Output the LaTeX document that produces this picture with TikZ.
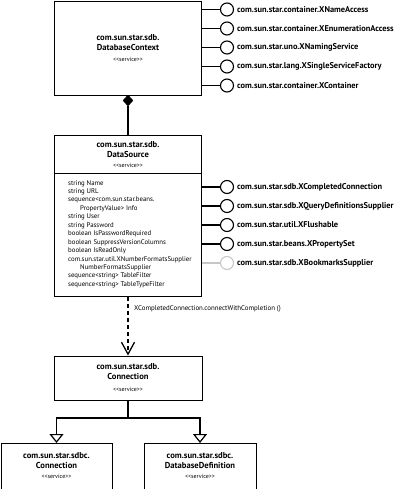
\documentclass[tikz,border=0pt]{standalone}
\usepackage{fontspec}
\setmainfont{PT Sans}
\usetikzlibrary{shapes.geometric,arrows.meta}
\begin{document}
\begin{tikzpicture}[x=1pt,y=-1pt,
  box/.style={draw,line width=0.9pt,rectangle,inner sep=0pt,align=center},
  ttl/.style={font=\bfseries\fontsize{8.6}{10}\selectfont,align=center,inner sep=0pt},
  stereo/.style={font=\fontsize{6}{7}\selectfont,inner sep=0pt},
  iface/.style={draw,circle,line width=1.1pt,minimum size=13pt,inner sep=0pt},
  ifacegray/.style={iface,draw=black!22},
  ilabel/.style={anchor=west,font=\bfseries\fontsize{8.4}{9}\selectfont,inner sep=0pt},
  conn/.style={line width=1.4pt},
  attr/.style={font=\fontsize{6.8}{8.45}\selectfont,align=left,anchor=north west,inner sep=0pt}
]
\useasboundingbox (0,0) rectangle (400,489);
\clip (0,0) rectangle (400,489);

% DatabaseContext
\node[box,minimum width=147pt,minimum height=94pt] (dbc) at (128,48) {};
\node[ttl] (dbct) at (128,42.5) {com.sun.star.sdb.\\DatabaseContext};
\node[stereo] (dbcs) at (128,59) {<{}<service>{}>};

% interfaces of DatabaseContext
\foreach \n/\yy/\t in {a1/9.5/com.sun.star.container.XNameAccess,
  a2/28.5/com.sun.star.container.XEnumerationAccess,
  a3/47.5/com.sun.star.uno.XNamingService,
  a4/66.5/com.sun.star.lang.XSingleServiceFactory,
  a5/85.5/com.sun.star.container.XContainer}{
  \node[iface] (\n) at (227,\yy) {};
  \draw[line width=1.1pt] (\n.west) -- (dbc.east |- \n.west);
  \node[ilabel] (\n l) at (237,\yy) {\t};
}

% DataSource
\node[box,minimum width=147pt,minimum height=38pt] (dsh) at (128,154) {};
\node[ttl] (dst) at (128,150) {com.sun.star.sdb.\\DataSource};
\node[stereo] (dss) at (128,165) {<{}<service>{}>};
\node[box,minimum width=147pt,minimum height=123pt,anchor=north] (dsb) at (dsh.south) {};
\node[attr] (dsa) at (68,180) {string Name\\string URL\\sequence<com.sun.star.beans.\\\hspace*{12pt}PropertyValue> Info\\string User\\string Password\\boolean IsPasswordRequired\\boolean SuppressVersionColumns\\boolean IsReadOnly\\com.sun.star.util.XNumberFormatsSupplier\\\hspace*{12pt}NumberFormatsSupplier\\sequence<string> TableFilter\\sequence<string> TableTypeFilter};

% composition
\node[diamond,fill=black,draw=black,minimum width=10pt,minimum height=11pt,inner sep=0pt] (dia) at (128,100.5) {};
\draw[conn] (dia.south) -- (dsh.north);

% interfaces of DataSource
\foreach \n/\yy/\t in {b1/187/com.sun.star.sdb.XCompletedConnection,
  b2/206/com.sun.star.sdb.XQueryDefinitionsSupplier,
  b3/225/com.sun.star.util.XFlushable,
  b4/244/com.sun.star.beans.XPropertySet}{
  \node[iface] (\n) at (227,\yy) {};
  \draw[line width=1.1pt] (\n.west) -- (dsb.east |- \n.west);
  \node[ilabel] (\n l) at (237,\yy) {\t};
}
\node[ifacegray] (b5) at (227,263) {};
\draw[line width=1.1pt,draw=black!22] (b5.west) -- (dsb.east |- b5.west);
\node[ilabel] (b5l) at (237,263) {com.sun.star.sdb.XBookmarksSupplier};

% Connection
\node[box,minimum width=148pt,minimum height=44pt] (cn) at (128,378) {};
\node[ttl] (cnt) at (128,372) {com.sun.star.sdb.\\Connection};
\node[stereo] (cns) at (128,389) {<{}<service>{}>};

\draw[conn,dash pattern=on 4pt off 3pt,-{Straight Barb[width=13pt,length=12pt,line width=1.3pt]}] (dsb.south) -- (cn.north);
\node[anchor=west,font=\fontsize{6.9}{8}\selectfont,inner sep=0pt] (lbl) at (134,309) {XCompletedConnection.connectWithCompletion ()};

% bottom boxes
\node[box,minimum width=111pt,minimum height=60pt,anchor=north] (sc) at (56.5,443) {};
\node[ttl] (sct) at (56.5,461) {com.sun.star.sdbc.\\Connection};
\node[stereo] (scs) at (56.5,476) {<{}<service>{}>};
\node[box,minimum width=112pt,minimum height=60pt,anchor=north] (sd) at (200,443) {};
\node[ttl] (sdt) at (200,461) {com.sun.star.sdbc.\\DatabaseDefinition};
\node[stereo] (sds) at (200,476) {<{}<service>{}>};

\coordinate (split) at (128,418);
\draw[conn,-{Triangle[open,width=14pt,length=9pt,line width=1.2pt]}] (cn.south) -- (split) -| (sc.north);
\draw[conn,-{Triangle[open,width=14pt,length=9pt,line width=1.2pt]}] (split) -| (sd.north);
\end{tikzpicture}
\end{document}
